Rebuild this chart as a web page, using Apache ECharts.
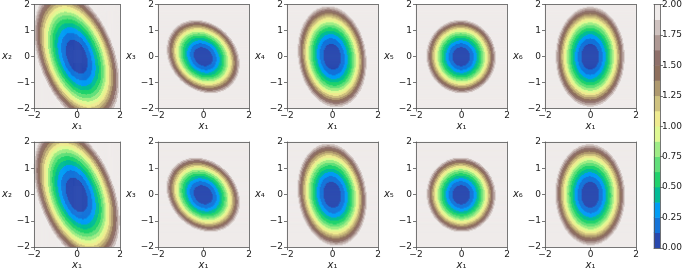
<!DOCTYPE html>
<html><head><meta charset="utf-8">
<script src="https://cdn.jsdelivr.net/npm/echarts@6/dist/echarts.min.js"></script>
<style>html,body{margin:0;padding:0;background:#fff}#c{width:685px;height:271px}</style>
</head><body><div id="c"></div>
<script>
// ---- data ----
const ySubs = ['\u2082', '\u2083', '\u2084', '\u2085', '\u2086']; // x2..x6
const xSub = '\u2081';
// quadratic-form ellipses: extent of the level-2 contour in x / y and correlation
const extXTop = [2.04, 1.65, 1.56, 1.57, 1.56];
const extYTop = [2.60, 1.45, 2.00, 1.45, 1.98];
const rhoTop  = [-0.38, -0.20, -0.12, -0.02, 0.00];
const extXBot = [2.05, 1.66, 1.57, 1.56, 1.58];
const extYBot = [2.62, 1.45, 2.00, 1.46, 1.98];
const rhoBot  = [-0.39, -0.20, -0.12, -0.02, -0.02];
const levels = [0, 0.125, 0.25, 0.375, 0.5, 0.625, 0.75, 0.875, 1, 1.125, 1.25, 1.375, 1.5, 1.625, 1.75, 1.875, 2];
const xTicks = [-2, 0, 2];
const yTicks = [-2, -1, 0, 1, 2];
const cbTicks = [0, 0.25, 0.5, 0.75, 1, 1.25, 1.5, 1.75, 2];
// terrain colormap sampled at band midpoints
const bandColors = ['#2848ae','#1373d9','#009cf5','#00bc96','#20d26c','#60df79','#9fec86','#dff993',
                    '#efeb90','#cfc27f','#af996e','#8f705d','#8f706a','#af9994','#cfc2bf','#efebea'];

// ---- layout ----
const colLeft = [29, 158, 287, 416, 545];
const panelW = 91;
const rowTop = [3, 142];
const rowH = [105.5, 106];
const NX = 91, NY = 106;
const FONT = 'DejaVu Sans';
const AX = '#555';

const grids = [], xAxes = [], yAxes = [], series = [];
const fmt = v => (v < 0 ? '\u2212' + Math.abs(v) : String(v));

function field(sx, sy, rho) {
  const d = [];
  for (let i = 0; i < NX; i++) {
    const x = xTicks[0] + (i + 0.5) * (xTicks[xTicks.length-1] - xTicks[0]) / NX;
    for (let j = 0; j < NY; j++) {
      const y = yTicks[0] + (j + 0.5) * (yTicks[yTicks.length-1] - yTicks[0]) / NY;
      let q = 2 * (x*x/(sx*sx) - 2*rho*x*y/(sx*sy) + y*y/(sy*sy)) / (1 - rho*rho);
      if (q > 2) q = 2;
      d.push([i, j, q]);
    }
  }
  return d;
}
const xCats = Array.from({length: NX}, (_, i) => i);
const yCats = Array.from({length: NY}, (_, i) => i);
const lineOnly = {show: true, onZero: false, lineStyle: {color: AX, width: 0.8}};

for (let r = 0; r < 2; r++) {
  for (let c = 0; c < 5; c++) {
    const gi = r * 5 + c;
    grids.push({left: colLeft[c], top: rowTop[r], width: panelW, height: rowH[r], containLabel: false});
    xAxes.push({type: 'category', gridIndex: gi, data: xCats, position: 'top', z: 5,
      axisLine: lineOnly, axisTick: {show: false}, axisLabel: {show: false}, splitLine: {show: false}});
    xAxes.push({type: 'value', gridIndex: gi, position: 'bottom', min: xTicks[0], max: xTicks[xTicks.length-1], interval: 2, z: 5,
      axisLine: lineOnly,
      axisTick: {show: true, length: 3, lineStyle: {color: AX, width: 0.8}},
      axisLabel: {fontSize: 9, fontFamily: FONT, color: '#1a1a1a', margin: 3, formatter: fmt},
      splitLine: {show: false},
      name: '{i|x}{n|' + xSub + '}', nameLocation: 'middle', nameGap: 12,
      nameTextStyle: {rich: {i: {fontStyle: 'italic', fontSize: 10, fontFamily: FONT, color: '#1a1a1a'},
                             n: {fontSize: 10, fontFamily: FONT, color: '#1a1a1a'}}}});
    yAxes.push({type: 'category', gridIndex: gi, data: yCats, position: 'right', z: 5,
      axisLine: lineOnly, axisTick: {show: false}, axisLabel: {show: false}, splitLine: {show: false}});
    yAxes.push({type: 'value', gridIndex: gi, position: 'left', min: yTicks[0], max: yTicks[yTicks.length-1], interval: 1, z: 5,
      axisLine: lineOnly,
      axisTick: {show: true, length: 3, lineStyle: {color: AX, width: 0.8}},
      axisLabel: {fontSize: 9, fontFamily: FONT, color: '#1a1a1a', margin: 4, formatter: fmt},
      splitLine: {show: false},
      name: '{i|x}{n|' + ySubs[c] + '}', nameLocation: 'middle', nameGap: 18, nameRotate: 0,
      nameTextStyle: {align: 'right', rich: {i: {fontStyle: 'italic', fontSize: 10, fontFamily: FONT, color: '#1a1a1a'},
                             n: {fontSize: 10, fontFamily: FONT, color: '#1a1a1a'}}}});
    const ex = r === 0 ? extXTop : extXBot, ey = r === 0 ? extYTop : extYBot, rh = r === 0 ? rhoTop : rhoBot;
    series.push({type: 'heatmap', xAxisIndex: 2*gi, yAxisIndex: 2*gi, data: field(ex[c], ey[c], rh[c]),
      progressive: 0, animation: false, itemStyle: {borderWidth: 0}, emphasis: {disabled: true}});
  }
}
// colorbar
const cbG = 10;
grids.push({left: 654, top: 3, width: 9, height: 245});
const bandIdx = bandColors.map((_, k) => k);
xAxes.push({type: 'category', gridIndex: cbG, data: ['c'], position: 'bottom', z: 5,
  axisLine: lineOnly, axisTick: {show: false}, axisLabel: {show: false}});
xAxes.push({type: 'category', gridIndex: cbG, data: ['c'], position: 'top', z: 5,
  axisLine: lineOnly, axisTick: {show: false}, axisLabel: {show: false}});
yAxes.push({type: 'category', gridIndex: cbG, data: bandIdx, position: 'left', z: 5,
  axisLine: lineOnly, axisTick: {show: false}, axisLabel: {show: false}});
yAxes.push({type: 'value', gridIndex: cbG, position: 'right', min: cbTicks[0], max: cbTicks[cbTicks.length-1], interval: 0.25, z: 5,
  axisLine: lineOnly,
  axisTick: {show: true, length: 3, lineStyle: {color: AX, width: 0.8}},
  axisLabel: {fontSize: 9, fontFamily: FONT, color: '#1a1a1a', margin: 2, formatter: v => v.toFixed(2)},
  splitLine: {show: false}});
series.push({type: 'heatmap', xAxisIndex: 20, yAxisIndex: 20,
  data: bandIdx.map(k => [0, k, (levels[k] + levels[k+1]) / 2]),
  progressive: 0, animation: false, itemStyle: {borderWidth: 0}, emphasis: {disabled: true}});

const pieces = bandColors.map((col, k) => (k === bandColors.length - 1
  ? {gte: levels[k], lte: levels[k+1], color: col}
  : {gte: levels[k], lt: levels[k+1], color: col}));

const chart = echarts.init(document.getElementById('c'), null, {renderer: 'canvas'});
chart.setOption({
  animation: false,
  backgroundColor: '#ffffff',
  grid: grids, xAxis: xAxes, yAxis: yAxes, series: series,
  visualMap: {type: 'piecewise', show: false, pieces: pieces, seriesIndex: series.map((_, i) => i), dimension: 2}
});
</script></body></html>
